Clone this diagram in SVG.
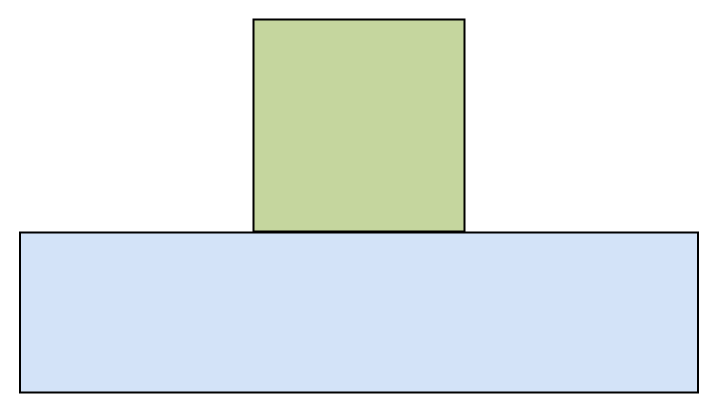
<svg xmlns="http://www.w3.org/2000/svg" width="720" height="413" viewBox="0 0 720 413">
<style>
.box{stroke:#000;stroke-width:2}
</style>
<rect width="720" height="413" fill="#fff"/>
<g id="base"><rect class="box" x="20" y="232.5" width="678" height="160" fill="#d3e3f8"/></g>
<g id="top"><rect class="box" x="253.5" y="19.5" width="211" height="212" fill="#c5d69e"/></g>
<g id="connectors"></g>
</svg>
